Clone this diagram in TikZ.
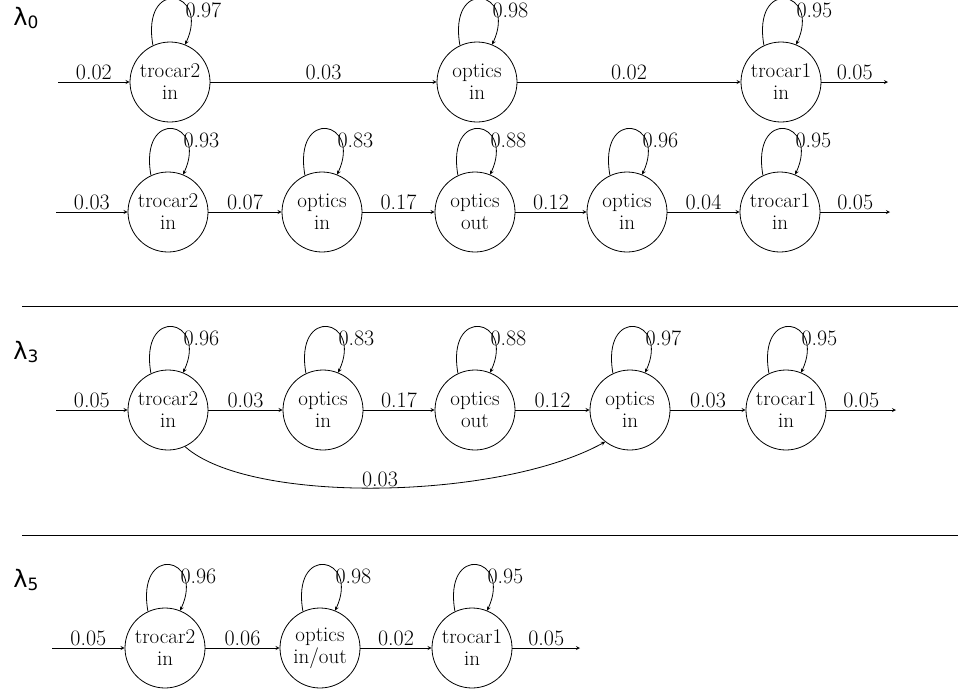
\documentclass[tikz,border=0pt]{standalone}
\usepackage{fontspec}
\usetikzlibrary{calc}
\newfontfamily\dv{DejaVu Sans}
\begin{document}
\begin{tikzpicture}[x=1pt,y=-1pt,>=stealth,
  st/.style={circle,draw,thick,minimum size=80pt,inner sep=0pt,align=center,font=\fontsize{21}{22}\selectfont},
  lb/.style={font=\fontsize{22}{24}\selectfont},
  ln/.style={->,thick}]
\useasboundingbox (0,0) rectangle (962,689);
\def\selfloop#1#2{\draw[ln] (#1.115) .. controls +(100:70pt) and +(65:60pt) .. (#1.68);
  \node[lb,anchor=west] at ($(#1.center)+(12,-72)$) {#2};}
\def\arr#1#2#3{\draw[ln] (#1) -- node[lb,above,inner sep=2pt]{#3} (#2);}
\node[font=\dv\fontsize{24}{26}\selectfont] at (26,18) {λ\raisebox{-3pt}{\fontsize{17}{18}\selectfont 0}};
\node[font=\dv\fontsize{24}{26}\selectfont] at (26,352) {λ\raisebox{-3pt}{\fontsize{17}{18}\selectfont 3}};
\node[font=\dv\fontsize{24}{26}\selectfont] at (26,580) {λ\raisebox{-3pt}{\fontsize{17}{18}\selectfont 5}};
\draw[thick] (22,306) -- (958,306);
\draw[thick] (22,535) -- (958,535);
% row 1
\node[st] (a1) at (170,82) {trocar2\\in};
\node[st] (a2) at (477,82) {optics\\in};
\node[st] (a3) at (781,82) {trocar1\\in};
\coordinate (a0) at (58,82); \coordinate (a4) at (888,82);
\arr{a0}{a1}{0.02}\arr{a1}{a2}{0.03}\arr{a2}{a3}{0.02}\arr{a3}{a4}{0.05}
\selfloop{a1}{0.97}\selfloop{a2}{0.98}\selfloop{a3}{0.95}
% row 2
\node[st] (b1) at (168,212) {trocar2\\in};
\node[st] (b2) at (322,212) {optics\\in};
\node[st] (b3) at (475,212) {optics\\out};
\node[st] (b4) at (627,212) {optics\\in};
\node[st] (b5) at (780,212) {trocar1\\in};
\coordinate (b0) at (56,212); \coordinate (b6) at (890,212);
\arr{b0}{b1}{0.03}\arr{b1}{b2}{0.07}\arr{b2}{b3}{0.17}\arr{b3}{b4}{0.12}\arr{b4}{b5}{0.04}\arr{b5}{b6}{0.05}
\selfloop{b1}{0.93}\selfloop{b2}{0.83}\selfloop{b3}{0.88}\selfloop{b4}{0.96}\selfloop{b5}{0.95}
% row 3
\node[st] (c1) at (168,410) {trocar2\\in};
\node[st] (c2) at (323,410) {optics\\in};
\node[st] (c3) at (475,410) {optics\\out};
\node[st] (c4) at (630,410) {optics\\in};
\node[st] (c5) at (786,410) {trocar1\\in};
\coordinate (c0) at (56,410); \coordinate (c6) at (896,410);
\arr{c0}{c1}{0.05}\arr{c1}{c2}{0.03}\arr{c2}{c3}{0.17}\arr{c3}{c4}{0.12}\arr{c4}{c5}{0.03}\arr{c5}{c6}{0.05}
\selfloop{c1}{0.96}\selfloop{c2}{0.83}\selfloop{c3}{0.88}\selfloop{c4}{0.97}\selfloop{c5}{0.95}
\draw[ln] (c1.-65) .. controls (250,505) and (500,500) .. node[lb,above,pos=0.5,inner sep=1pt]{0.03} (c4.232);
% row 4
\node[st] (d1) at (165,648) {trocar2\\in};
\node[st] (d2) at (320,648) {optics\\in/out};
\node[st] (d3) at (472,648) {trocar1\\in};
\coordinate (d0) at (52,648); \coordinate (d4) at (580,648);
\arr{d0}{d1}{0.05}\arr{d1}{d2}{0.06}\arr{d2}{d3}{0.02}\arr{d3}{d4}{0.05}
\selfloop{d1}{0.96}\selfloop{d2}{0.98}\selfloop{d3}{0.95}
\end{tikzpicture}
\end{document}
